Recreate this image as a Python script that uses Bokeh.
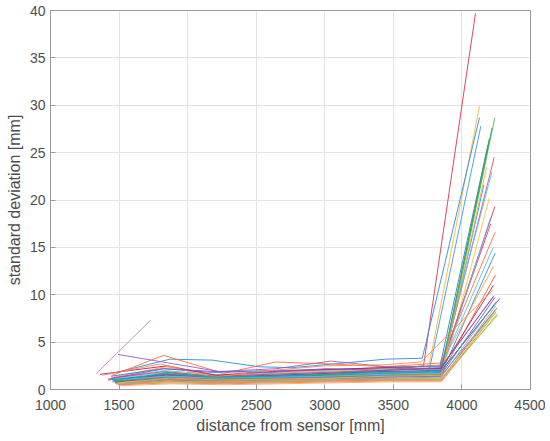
from bokeh.plotting import figure
from bokeh.models import FixedTicker, Range1d
from bokeh.embed import file_html
from bokeh.resources import INLINE

# ---- data ----
x_ticks = [1000, 1500, 2000, 2500, 3000, 3500, 4000, 4500]
y_ticks = [0, 5, 10, 15, 20, 25, 30, 35, 40]

distance = [
    [1420, 1830, 2200, 2620, 3020, 3420, 3720, 4099],
    [1460, 1850, 2230, 2650, 3050, 3450, 3750, 4128],
    [1480, 1870, 2180, 2520, 2760, 3443, 3711, 4128],
    [1450, 1840, 2210, 2600, 3000, 3400, 3760, 4138],
    [1470, 1850, 2200, 2620, 3030, 3430, 3850, 4240],
    [1460, 1840, 2190, 2610, 3010, 3420, 3845, 4220],
    [1480, 1860, 2220, 2640, 3040, 3440, 3840, 4235],
    [1450, 1830, 2200, 2600, 3000, 3400, 3840, 4218],
    [1470, 1850, 2210, 2620, 3020, 3430, 3845, 4160],
    [1490, 1860, 2230, 2650, 3050, 3450, 3850, 4200],
    [1460, 1840, 2200, 2610, 3010, 3410, 3840, 4240],
    [1450, 1824, 2262, 2641, 3040, 3440, 3845, 4242],
    [1440, 1830, 2190, 2600, 3000, 3400, 3840, 4228],
    [1480, 1850, 2210, 2620, 3020, 3430, 3850, 4242],
    [1470, 1840, 2200, 2610, 3010, 3420, 3845, 4245],
    [1493, 1860, 2230, 2650, 3042, 3450, 3850, 4228],
    [1335, 1729],
    [1460, 1850, 2210, 2630, 3030, 3440, 3850, 4276],
    [1470, 1840, 2200, 2620, 3020, 3430, 3845, 4240],
    [1480, 1850, 2220, 2630, 3030, 3440, 3850, 4250],
    [1490, 1860, 2230, 2640, 3040, 3450, 3850, 4255],
    [1500, 1870, 2240, 2650, 3050, 3460, 3855, 4260],
    [1480, 1860, 2220, 2640, 3040, 3450, 3850, 4258],
    [1470, 1850, 2210, 2630, 3030, 3440, 3845, 4245],
    [1460, 1840, 2200, 2620, 3020, 3430, 3845, 4230],
    [1450, 1830, 2190, 2600, 3000, 3400, 3840, 4210],
    [1440, 1820, 2180, 2590, 2990, 3390, 3840, 4190],
    [1470, 1850, 2210, 2620, 3020, 3430, 3845, 4200],
    [1490, 1860, 2230, 2640, 3040, 3440, 3850, 4180],
    [1470, 1850, 2200, 2610, 3010, 3420, 3845, 4210],
    [1360, 1850, 2210, 2620, 3030, 3440, 3850, 4230],
    [1380, 1800, 2180, 2600, 3000, 3420, 3700, 4225],
    [1420, 1830, 2190, 2600, 3010, 3420, 3845, 4235],
    [1450, 1840, 2200, 2610, 3020, 3430, 3845, 4240],
    [1500, 1870, 2250, 2660, 3060, 3460, 3855, 4250],
    [1490, 1850, 2220, 2630, 3030, 3440, 3850, 4245],
    [1510, 1880, 2260, 2670, 3070, 3470, 3845, 4235],
]

std_dev = [
    [1.0, 1.6, 1.2, 1.5, 1.7, 2.0, 2.5, 39.7],
    [0.9, 1.4, 1.0, 1.3, 1.5, 1.8, 1.8, 29.9],
    [1.8, 3.2, 3.1, 2.4, 2.3, 3.2, 3.3, 28.7],
    [0.8, 1.3, 1.1, 1.2, 1.4, 1.6, 1.9, 27.8],
    [0.7, 1.2, 0.9, 1.1, 1.3, 1.4, 1.6, 28.7],
    [0.9, 1.5, 1.3, 1.4, 1.5, 1.7, 1.8, 27.6],
    [0.6, 1.0, 0.8, 1.0, 1.1, 1.3, 1.5, 24.5],
    [1.1, 1.8, 1.5, 1.6, 1.8, 2.1, 2.2, 22.9],
    [0.7, 1.1, 0.9, 1.0, 1.2, 1.3, 1.4, 21.6],
    [0.6, 0.9, 0.7, 0.9, 1.0, 1.1, 1.2, 20.2],
    [1.0, 1.5, 1.3, 1.4, 1.6, 1.9, 2.0, 19.3],
    [1.5, 3.6, 1.7, 2.9, 2.7, 2.4, 2.8, 16.6],
    [1.2, 2.0, 1.6, 1.7, 1.9, 2.2, 2.1, 15.0],
    [0.8, 1.3, 1.0, 1.2, 1.4, 1.5, 1.7, 14.4],
    [0.9, 1.4, 1.1, 1.3, 1.4, 1.6, 1.5, 12.1],
    [3.7, 2.8, 1.9, 2.2, 3.0, 2.4, 2.4, 9.8],
    [1.7, 7.3],
    [1.0, 1.6, 1.4, 1.5, 1.7, 1.9, 2.0, 9.6],
    [0.8, 1.2, 1.0, 1.1, 1.3, 1.4, 1.5, 9.7],
    [0.7, 1.1, 0.9, 1.0, 1.1, 1.2, 1.3, 9.3],
    [0.6, 1.0, 0.8, 0.9, 1.0, 1.1, 1.1, 8.6],
    [0.5, 0.8, 0.7, 0.8, 0.9, 1.0, 1.0, 8.0],
    [0.6, 0.9, 0.8, 0.9, 1.0, 1.0, 1.1, 7.8],
    [0.9, 1.3, 1.1, 1.2, 1.3, 1.4, 1.4, 8.4],
    [1.3, 2.4, 1.5, 1.8, 2.0, 2.2, 2.6, 13.0],
    [1.2, 1.9, 1.4, 1.6, 1.8, 2.0, 2.2, 17.5],
    [1.4, 2.2, 1.8, 2.0, 2.1, 2.3, 2.5, 25.8],
    [0.8, 1.8, 1.2, 1.3, 1.5, 1.6, 1.7, 26.5],
    [0.7, 1.2, 1.0, 1.1, 1.2, 1.4, 1.5, 23.5],
    [1.0, 1.4, 1.2, 1.3, 1.4, 1.6, 1.7, 18.2],
    [1.6, 2.5, 1.5, 1.9, 2.1, 2.3, 2.2, 11.0],
    [1.5, 2.7, 1.3, 2.0, 2.5, 2.6, 2.9, 10.5],
    [1.1, 2.2, 1.9, 1.8, 2.2, 2.0, 2.3, 9.9],
    [1.0, 1.7, 1.3, 1.4, 1.6, 1.8, 1.9, 9.0],
    [0.5, 0.7, 0.6, 0.7, 0.8, 0.9, 0.9, 8.2],
    [0.5, 0.9, 0.7, 0.8, 0.9, 1.0, 1.0, 8.8],
    [0.4, 0.6, 0.5, 0.6, 0.7, 0.8, 0.8, 8.1],
]

line_colors = [
    "#d8344f", "#f5b83d", "#2a8fd6", "#3d9be9", "#5fb84a", "#1aa38a",
    "#e0506a", "#4fc3f7", "#2196f3", "#ffbf40", "#d83a56", "#ff7043",
    "#5bc0eb", "#3090e0", "#ff5a36", "#a05cc0", "#c47ccc", "#1f77d0",
    "#8e44ad", "#e86ea6", "#4caf50", "#8bc34a", "#b5c934", "#26a69a",
    "#ff9f40", "#e0435d", "#2d7fd3", "#43a047", "#f5b041", "#64b5f6",
    "#c2185b", "#ff8a50", "#7e57c2", "#00acc1", "#fb8c00", "#ec7aa0",
    "#f4a582",
]

text_color = "#4d4d4d"
axis_color = "#9a9a9a"

p = figure(width=545, height=439, output_backend="svg", toolbar_location=None,
           x_range=Range1d(1000, 4500), y_range=Range1d(0, 40),
           min_border_left=50, min_border_right=15, min_border_top=10,
           min_border_bottom=50)

for xs, ys, c in zip(distance, std_dev, line_colors):
    p.line(xs, ys, line_color=c, line_width=1.0, line_alpha=0.9)

p.outline_line_color = axis_color
p.outline_line_width = 1
p.background_fill_color = "white"
p.border_fill_color = "white"

for ax in (p.xaxis[0], p.yaxis[0]):
    ax.axis_line_color = axis_color
    ax.major_tick_line_color = axis_color
    ax.major_tick_in = 5
    ax.major_tick_out = 0
    ax.minor_tick_line_color = None
    ax.major_label_text_font = "Liberation Sans"
    ax.major_label_text_font_size = "14px"
    ax.major_label_text_color = text_color
    ax.axis_label_text_font = "Liberation Sans"
    ax.axis_label_text_font_size = "16px"
    ax.axis_label_text_font_style = "normal"
    ax.axis_label_text_color = text_color

p.xaxis[0].ticker = FixedTicker(ticks=x_ticks)
p.yaxis[0].ticker = FixedTicker(ticks=y_ticks)
p.xaxis[0].axis_label = "distance from sensor [mm]"
p.yaxis[0].axis_label = "standard deviation [mm]"
p.xaxis[0].major_label_standoff = 10
p.yaxis[0].major_label_standoff = 5
p.xaxis[0].axis_label_standoff = 4
p.yaxis[0].axis_label_standoff = 4

p.xgrid.ticker = FixedTicker(ticks=x_ticks)
p.ygrid.ticker = FixedTicker(ticks=y_ticks)
p.xgrid.grid_line_color = "#e3e3e3"
p.ygrid.grid_line_color = "#e3e3e3"

open("out.html", "w").write(file_html(p, INLINE))
